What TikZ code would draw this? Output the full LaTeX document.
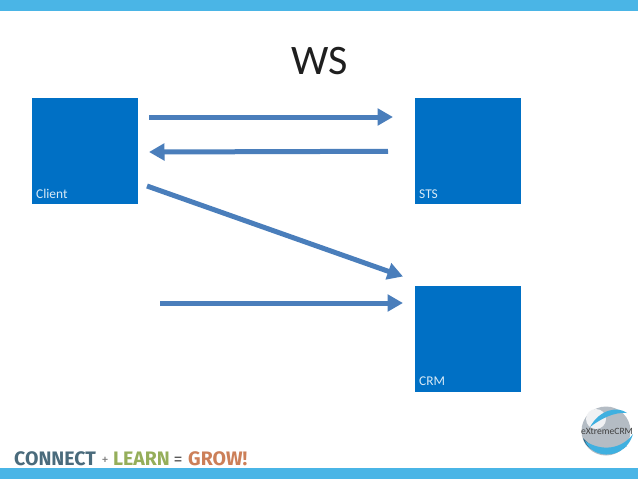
\documentclass[tikz,border=0pt]{standalone}
\usepackage{fontspec}
\setmainfont{Carlito}
\newfontfamily\logofont{Fira Sans}
\usetikzlibrary{arrows.meta}
\definecolor{barblue}{HTML}{4AB5E6}
\definecolor{boxblue}{HTML}{0070C5}
\definecolor{arrowblue}{HTML}{4A7EBB}
\definecolor{logoslate}{HTML}{4A6B7C}
\definecolor{logogreen}{HTML}{95AE5A}
\definecolor{logoorange}{HTML}{CC7F58}
\definecolor{globegray}{HTML}{B4BCC4}
\definecolor{swoosh}{HTML}{3FB0E0}
\definecolor{swooshdark}{HTML}{1F5F80}
\tikzset{
  tile/.style={fill=boxblue,draw=none,minimum width=106.5pt,minimum height=106pt,inner sep=0pt,outer sep=0pt},
  tilelabel/.style={font=\fontsize{13.4}{15}\selectfont,inner sep=0pt,anchor=base west,text=white!85!boxblue},
  flow/.style={draw=arrowblue,line width=5pt,-{Triangle[length=15.5pt,width=16.5pt]}},
  bar/.style={fill=barblue,draw=none},
  logotext/.style={font=\logofont\bfseries\fontsize{19.5}{21}\selectfont,inner sep=0pt,anchor=base west}
}
\begin{document}
\begin{tikzpicture}[x=1pt,y=-1pt]
\useasboundingbox (0,0) rectangle (638,479);
\fill[white] (0,0) rectangle (638,479);
\fill[bar] (0,0) rectangle (638,11);
\fill[bar] (0,468) rectangle (638,479);
\node[inner sep=0pt,font=\fontsize{42}{46}\selectfont,text=black!88] (title) at (319.5,61) {WS};
\node[tile] (client) at (85,151) {};
\node[tile] (sts) at (468,151) {};
\node[tile] (crm) at (468,338.5) {};
\node[tilelabel] (clientlabel) at (36,198) {Client};
\node[tilelabel] (stslabel) at (419,198) {STS};
\node[tilelabel] (crmlabel) at (419,385) {CRM};
\coordinate (a1s) at (149,117);
\coordinate (a1e) at (393,117);
\coordinate (a2s) at (388,151.3);
\coordinate (a2e) at (149,152);
\coordinate (a3s) at (147,186);
\coordinate (a3e) at (403,276.5);
\coordinate (a4s) at (160,303);
\coordinate (a4e) at (403,303);
\draw[flow] (a1s) -- (a1e);
\draw[flow] (a2s) -- (a2e);
\draw[flow] (a3s) -- (a3e);
\draw[flow] (a4s) -- (a4e);
% footer slogan
\node[logotext,text=logoslate] (connect) at (14,465) {CONNECT};
\node[logotext,text=gray,font=\logofont\fontsize{14}{16}\selectfont] (plus) at (101.5,464) {+};
\node[logotext,text=logogreen] (learn) at (113,465) {LEARN};
\node[logotext,text=black!65,font=\logofont\fontsize{18}{20}\selectfont] (equals) at (173.5,465) {=};
\node[logotext,text=logoorange] (grow) at (188,465) {GROW!};
% globe emblem
\fill[globegray] (606,431) circle (24.5);
\fill[white!80!globegray] (596,419) circle (10);
\fill[swooshdark] (583,438) .. controls (588,455) and (612,457) .. (627,446)
  .. controls (612,453) and (594,451) .. (583,438) -- cycle;
\fill[swoosh] (585,441) .. controls (594,461) and (626,459) .. (633,434)
  .. controls (622,449) and (602,452) .. (585,441) -- cycle;
\fill[swoosh] (590,427) .. controls (600,409) and (618,406) .. (627,413)
  .. controls (614,412) and (602,418) .. (590,427) -- cycle;
\node[inner sep=0pt,font=\fontsize{9.6}{11}\selectfont,text=black!75] (brand) at (607,431) {eXtremeCRM};
\end{tikzpicture}
\end{document}
